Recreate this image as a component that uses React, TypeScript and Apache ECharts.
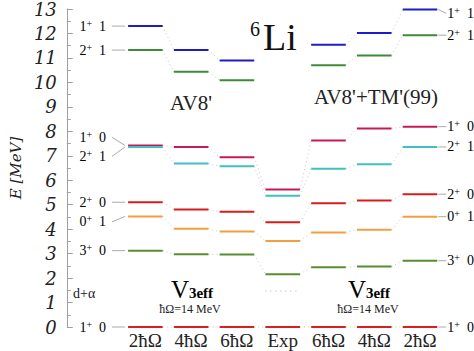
import React, { useEffect, useRef } from "react";
import * as echarts from "echarts";

// Column labels (x)
const columns = ["2ħΩ", "4ħΩ", "6ħΩ", "Exp", "6ħΩ", "4ħΩ", "2ħΩ"];

// Level energies (MeV) per state, one value per column (null = not present)
const lvl1p1 = [12.3, 11.32, 10.89, null, 11.54, 12.02, 12.98];
const lvl2p1a = [11.32, 10.43, 10.09, null, 10.7, 11.1, 11.93];
const lvl1p0 = [7.42, 7.36, 6.94, 5.62, 7.62, 8.11, 8.19];
const lvl2p1b = [7.36, 6.68, 6.57, 5.37, 6.47, 6.65, 7.36];
const lvl2p0 = [5.1, 4.8, 4.71, 4.28, 5.06, 5.17, 5.43];
const lvl0p1 = [4.52, 4.02, 3.9, 3.52, 3.86, 3.98, 4.51];
const lvl3p0 = [3.12, 2.97, 2.96, 2.16, 2.44, 2.47, 2.71];
const lvlGs = [0, 0, 0, 0, 0, 0, 0];
const dAlphaThreshold = 1.47;

const stateLevels = [lvl1p1, lvl2p1a, lvl1p0, lvl2p1b, lvl2p0, lvl0p1, lvl3p0, lvlGs];
const stateColors = ["#1c1cc8", "#3f8a3a", "#c81858", "#40c0c0", "#d81c1c", "#f0a040", "#5a8c30", "#d82020"];
const stateJ = ["1", "2", "1", "2", "2", "0", "3", "1"];
const stateT = ["1", "1", "0", "1", "0", "1", "0", "0"];

// Left-side label energies (where the text sits) for column 0
const leftLabelE = [12.3, 11.32, 7.75, 6.98, 5.1, 4.3, 3.12, 0];
// Right-side label energies for column 6
const rightLabelE = [12.82, 11.93, 8.19, 7.36, 5.43, 4.51, 2.71, 0];

const HW = 0.378;
const SERIF = "Liberation Serif";

export default function App() {
  const ref = useRef<HTMLDivElement>(null);
  useEffect(() => {
    if (!ref.current) return;
    const chart = echarts.init(ref.current, null, { renderer: "svg" });

    const levelData: any[] = [];
    stateLevels.forEach((arr, s) => {
      arr.forEach((e, c) => {
        if (e !== null) levelData.push([c, e, s]);
      });
    });
    const connData: any[] = [];
    stateLevels.forEach((arr) => {
      for (let c = 0; c < arr.length - 1; c++) {
        if (arr[c] !== null && arr[c + 1] !== null) connData.push([c, arr[c], arr[c + 1]]);
      }
    });
    const leftData = leftLabelE.map((le, s) => [0, stateLevels[s][0], le, s]);
    const rightData = rightLabelE.map((le, s) => [6, stateLevels[s][6], le, s]);
    const colData = columns.map((_, i) => [i, 0]);

    const rich = {
      t: { fontFamily: SERIF, fontSize: 14, color: "#222" },
      s: { fontFamily: SERIF, fontSize: 10, color: "#222", verticalAlign: "top", padding: [0, 0, 6, 0] },
    };
    const lblText = (s: number) => `{t|${stateJ[s]}}{s|+}{t|  ${stateT[s]}}`;
    const vRich = {
      v: { fontFamily: SERIF, fontSize: 25, color: "#222" },
      b: { fontFamily: SERIF, fontSize: 15, fontWeight: "bold", color: "#222", padding: [8, 0, 0, 0] },
    };

    const option: any = {
      animation: false,
      grid: { left: 62, right: 0, top: 6, bottom: 24 },
      xAxis: { type: "value", min: -1.717, max: 7.18, show: false },
      yAxis: {
        type: "value",
        min: 0,
        max: 13,
        interval: 1,
        name: "E [MeV]",
        nameLocation: "middle",
        nameGap: 42,
        nameRotate: 90,
        nameTextStyle: { fontFamily: "DejaVu Serif", fontStyle: "italic", fontSize: 15, color: "#222" },
        axisLine: { show: true, onZero: false, lineStyle: { color: "#a0a0a0", width: 1 } },
        axisTick: { show: true, inside: true, length: 6, lineStyle: { color: "#a0a0a0" } },
        minorTick: { show: true, splitNumber: 2, length: 4, lineStyle: { color: "#a0a0a0" } },
        splitLine: { show: false },
        axisLabel: { fontFamily: "DejaVu Serif", fontStyle: "italic", fontSize: 18, color: "#222", margin: 10 },
      },
      series: [
        {
          type: "custom",
          clip: false,
          data: connData,
          z: 1,
          renderItem: (params: any, api: any) => {
            const c = api.value(0);
            const p1 = api.coord([c + HW, api.value(1)]);
            const p2 = api.coord([c + 1 - HW, api.value(2)]);
            return {
              type: "line",
              shape: { x1: p1[0], y1: p1[1], x2: p2[0], y2: p2[1] },
              style: { stroke: "#c8c8c8", lineWidth: 1, lineDash: [1, 3] },
            };
          },
        },
        {
          type: "custom",
          clip: false,
          data: [[3, dAlphaThreshold]],
          renderItem: (params: any, api: any) => {
            const c = api.value(0);
            const p1 = api.coord([c - HW, api.value(1)]);
            const p2 = api.coord([c + HW, api.value(1)]);
            return {
              type: "line",
              shape: { x1: p1[0], y1: p1[1], x2: p2[0], y2: p2[1] },
              style: { stroke: "#b0b0b0", lineWidth: 1, lineDash: [1, 4] },
            };
          },
        },
        {
          type: "custom",
          clip: false,
          data: levelData,
          z: 3,
          renderItem: (params: any, api: any) => {
            const c = api.value(0);
            const p1 = api.coord([c - HW, api.value(1)]);
            const p2 = api.coord([c + HW, api.value(1)]);
            return {
              type: "line",
              shape: { x1: p1[0], y1: p1[1], x2: p2[0], y2: p2[1] },
              style: { stroke: stateColors[api.value(2)], lineWidth: 2 },
            };
          },
        },
        {
          type: "custom",
          clip: false,
          data: leftData,
          renderItem: (params: any, api: any) => {
            const c = api.value(0);
            const pb = api.coord([c - HW, api.value(1)]);
            const pl = api.coord([c - HW, api.value(2)]);
            const s = api.value(3);
            return {
              type: "group",
              children: [
                {
                  type: "line",
                  shape: { x1: pb[0] - 16, y1: pl[1], x2: pb[0] - 3, y2: pb[1] },
                  style: { stroke: "#aaa", lineWidth: 1 },
                },
                {
                  type: "text",
                  style: { x: pb[0] - 22, y: pl[1], text: lblText(s), rich, align: "right", verticalAlign: "middle" },
                },
              ],
            };
          },
        },
        {
          type: "custom",
          clip: false,
          data: rightData,
          renderItem: (params: any, api: any) => {
            const c = api.value(0);
            const pb = api.coord([c + HW, api.value(1)]);
            const pl = api.coord([c + HW, api.value(2)]);
            const s = api.value(3);
            return {
              type: "group",
              children: [
                {
                  type: "line",
                  shape: { x1: pb[0] + 1, y1: pb[1], x2: pb[0] + 9, y2: pl[1] },
                  style: { stroke: "#aaa", lineWidth: 1 },
                },
                {
                  type: "text",
                  style: { x: pb[0] + 10, y: pl[1], text: lblText(s), rich, align: "left", verticalAlign: "middle" },
                },
              ],
            };
          },
        },
        {
          type: "custom",
          clip: false,
          data: colData,
          renderItem: (params: any, api: any) => {
            const p = api.coord([api.value(0), api.value(1)]);
            return {
              type: "text",
              style: {
                x: p[0],
                y: p[1] + 13,
                text: columns[params.dataIndex],
                fontFamily: SERIF,
                fontSize: 19,
                fill: "#222",
                align: "center",
                verticalAlign: "middle",
              },
            };
          },
        },
      ],
      graphic: [
        { type: "text", x: 73, y: 293, style: { text: "d+α", fontFamily: SERIF, fontSize: 14, fill: "#222", verticalAlign: "middle" } },
        { type: "text", x: 250, y: 29, style: { text: "6", fontFamily: SERIF, fontSize: 20, fill: "#111", verticalAlign: "middle" } },
        { type: "text", x: 263, y: 37, style: { text: "Li", fontFamily: SERIF, fontSize: 38, fill: "#111", verticalAlign: "middle" } },
        { type: "text", x: 191, y: 103, style: { text: "AV8'", fontFamily: SERIF, fontSize: 21, fill: "#222", align: "center", verticalAlign: "middle" } },
        { type: "text", x: 376, y: 97, style: { text: "AV8'+TM'(99)", fontFamily: SERIF, fontSize: 21, fill: "#222", align: "center", verticalAlign: "middle" } },
        { type: "text", x: 192, y: 289, style: { text: "{v|V}{b|3eff}", align: "center", verticalAlign: "middle", rich: vRich } },
        { type: "text", x: 190, y: 309, style: { text: "ħΩ=14 MeV", fontFamily: SERIF, fontSize: 12, fill: "#222", align: "center", verticalAlign: "middle" } },
        { type: "text", x: 369, y: 289, style: { text: "{v|V}{b|3eff}", align: "center", verticalAlign: "middle", rich: vRich } },
        { type: "text", x: 368, y: 309, style: { text: "ħΩ=14 MeV", fontFamily: SERIF, fontSize: 12, fill: "#222", align: "center", verticalAlign: "middle" } },
      ],
    };
    chart.setOption(option);
    return () => chart.dispose();
  }, []);
  return <div ref={ref} style={{ position: "absolute", left: 0, top: 0, width: 474, height: 351 }} />;
}
